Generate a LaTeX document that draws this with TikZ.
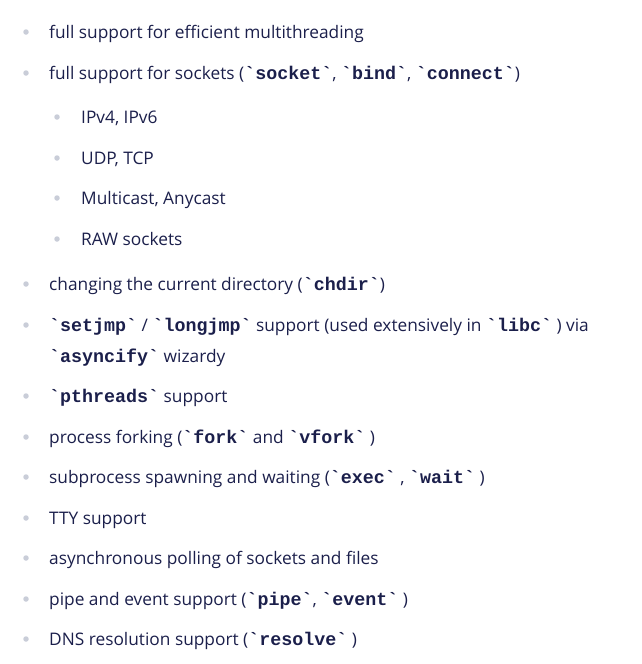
\documentclass[tikz,border=0pt]{standalone}
\usepackage{fontspec}
\setmainfont{Open Sans}
\setmonofont[Scale=1.06]{Liberation Mono}
\definecolor{txt}{HTML}{1B1F4B}
\definecolor{bul}{HTML}{C9CDD8}
\newcommand{\cd}[1]{{\ttfamily\bfseries`#1`}}
\begin{document}
\begin{tikzpicture}[x=1pt,y=-1pt,
  item/.style={anchor=base west,inner sep=0pt,text=txt,font=\fontsize{17.3}{20}\selectfont},
  dot/.style={circle,fill=bul,inner sep=0pt,minimum size=5.5pt}]
\useasboundingbox (0,0) rectangle (642,664);
\foreach \y/\n in {32/a,73/b,284/c,325/d,396/e,437/f,477/g,518/h,558/i,599/j,639/k}
  \node[dot] (d\n) at (26,\y) {};
\foreach \y/\n in {117/s1,158/s2,198/s3,239/s4}
  \node[dot] (d\n) at (57,\y) {};
\node[item] (ta) at (49,38) {full support for efficient multithreading};
\node[item] (tb) at (49,79) {full support for sockets (\cd{socket}, \cd{bind}, \cd{connect})};
\node[item] (ts1) at (81,123) {IPv4, IPv6};
\node[item] (ts2) at (81,164) {UDP, TCP};
\node[item] (ts3) at (81,204) {Multicast, Anycast};
\node[item] (ts4) at (81,245) {RAW sockets};
\node[item] (tc) at (49,290) {changing the current directory (\cd{chdir})};
\node[item] (td) at (49,331) {\cd{setjmp} / \cd{longjmp} support (used extensively in \cd{libc} ) via};
\node[item] (td2) at (49,362) {\cd{asyncify} wizardy};
\node[item] (te) at (49,402) {\cd{pthreads} support};
\node[item] (tf) at (49,443) {process forking (\cd{fork} and \cd{vfork} )};
\node[item] (tg) at (49,483) {subprocess spawning and waiting (\cd{exec} , \cd{wait} )};
\node[item] (th) at (49,524) {TTY support};
\node[item] (ti) at (49,564) {asynchronous polling of sockets and files};
\node[item] (tj) at (49,605) {pipe and event support (\cd{pipe}, \cd{event} )};
\node[item] (tk) at (49,645) {DNS resolution support (\cd{resolve} )};
\end{tikzpicture}
\end{document}
